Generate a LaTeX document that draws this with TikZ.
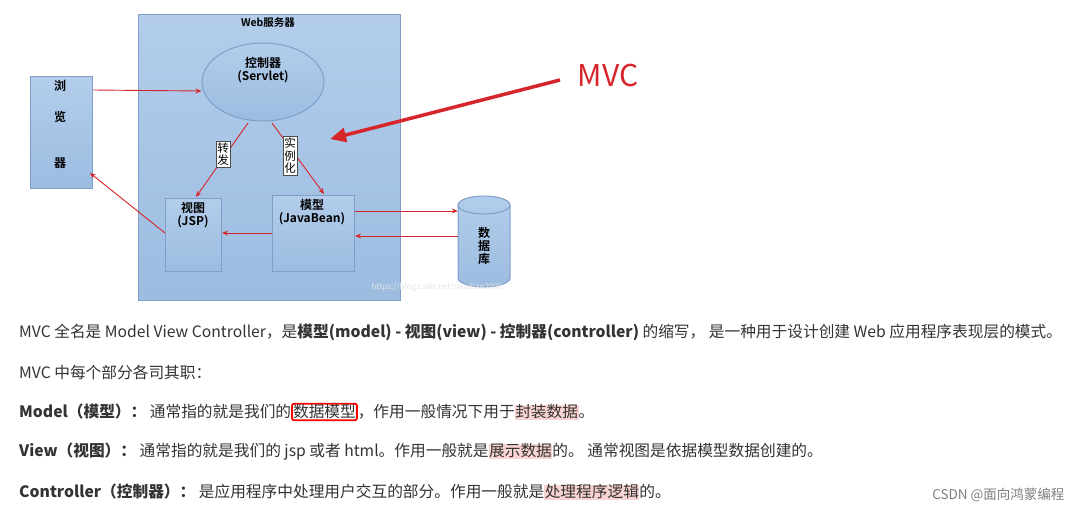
\documentclass[tikz,border=0pt]{standalone}
\usepackage{fontspec}
\setmainfont{Noto Sans CJK SC}
\newfontfamily\cjkb{Noto Sans CJK SC Bold}
\usetikzlibrary{shapes.geometric,arrows.meta}
\definecolor{bfill}{HTML}{B3CDEB}
\definecolor{bfill2}{HTML}{9CBCE0}
\definecolor{bline}{HTML}{7E9FC9}
\definecolor{arr}{HTML}{D7262B}
\definecolor{txt}{HTML}{333333}
\definecolor{hl}{HTML}{FAD4D2}
\tikzset{
 box/.style={draw=bline,line width=1pt,top color=bfill,bottom color=bfill2,inner sep=0},
 lbl/.style={font=\cjkb\fontsize{12}{13}\selectfont,text=black,align=center},
 conn/.style={draw=arr,line width=0.9pt,-{Stealth[length=6pt,width=5pt]}},
 tag/.style={draw=black!70,fill=white,line width=0.5pt,font=\fontsize{11.5}{12.5}\selectfont,align=center,inner sep=1.5pt},
 para/.style={anchor=west,text=txt,font=\fontsize{15.7}{17}\selectfont,inner sep=0},
 hlt/.style={fill=hl,inner sep=0.5pt,text depth=2pt,text height=12pt}
}
\begin{document}
\begin{tikzpicture}[x=1pt,y=-1pt]
\useasboundingbox[fill=white] (0,0) rectangle (1081,515);
% web server
\node[box,minimum width=262pt,minimum height=286pt,anchor=north west] (web) at (138,14) {};
\node[lbl,font=\cjkb\fontsize{10.5}{12}\selectfont] (webt) at (268,23) {Web服务器};
\node[box,minimum width=62pt,minimum height=112pt,anchor=north west] (br) at (30,76) {};
\node[lbl] (b1) at (60,86) {浏};
\node[lbl] (b2) at (60,117) {览};
\node[lbl] (b3) at (60,163) {器};
\node[box,ellipse,minimum width=122pt,minimum height=78pt] (ctl) at (263,82) {};
\node[lbl] (ctlt) at (263,70) {控制器\\(Servlet)};
\node[box,minimum width=56pt,minimum height=73pt,anchor=north west] (view) at (165,198) {};
\node[lbl] (viewt) at (193,215) {视图\\(JSP)};
\node[box,minimum width=82pt,minimum height=76pt,anchor=north west] (model) at (272,195) {};
\node[lbl] (modelt) at (312,212) {模型\\(JavaBean)};
% database cylinder
\path[draw=bline,line width=1pt,top color=bfill,bottom color=bfill2]
  (458,205) -- (458,278) arc[start angle=180,end angle=360,x radius=26,y radius=-9] -- (510,205)
  arc[start angle=0,end angle=180,x radius=26,y radius=-9] -- cycle;
\draw[bline,line width=1pt] (458,205) arc[start angle=180,end angle=360,x radius=26,y radius=-9];
\node[minimum width=52pt,minimum height=91pt,inner sep=0] (db) at (484,241) {};
\node[lbl] (dbt) at (484,246) {数\\据\\库};
% arrows
\draw[conn] (br.east|-0,90) -- (ctl.west|-0,91);
\coordinate (c1) at (248,123);
\coordinate (c2) at (272,123);
\draw[conn] (c1) -- (196,197) coordinate (v1);
\draw[conn] (c2) -- (324,194) coordinate (m1);
\node[tag] (zf) at (223,154) {转\\发};
\node[tag] (slh) at (290,156) {实\\例\\化};
\draw[conn] (model.west|-0,233) -- (view.east|-0,233);
\draw[conn] (view.west|-0,233) -- (90,173) coordinate (bb);
\draw[conn] (model.east|-0,211) -- (db.west|-0,211);
\draw[conn] (db.west|-0,236) -- (model.east|-0,236);
\node[text=white!80!gray,font=\fontsize{8}{9}\selectfont] (wm) at (437,287) {https://blog.csdn.net/swadian2008};
% big red arrow
\coordinate (ra) at (560,80);
\coordinate (rb) at (330,139);
\draw[arr,line width=3.5pt,-{Triangle[length=16pt,width=14pt]}] (ra) -- (rb);
\node[text=arr,font=\fontsize{30}{32}\selectfont] (mvc) at (608,75) {MVC};
% text
\node[para] (p1) at (19,332) {MVC 全名是 Model View Controller，是\textbf{模型(model) - 视图(view) - 控制器(controller)} 的缩写， 是一种用于设计创建 Web 应用程序表现层的模式。};
\node[para] (p2) at (19,372) {MVC 中每个部分各司其职：};
\node[para] (p3) at (19,412) {\textbf{Model（模型）：} 通常指的就是我们的\tikz[baseline]\node[anchor=base,inner sep=1pt,draw=red,line width=1.8pt,rounded corners=2pt] (nb) {数据模型};，作用一般情况下用于\tikz[baseline]\node[anchor=base,hlt] (h1) {封装数据};。};
\node[para] (p4) at (19,452) {\textbf{View（视图）：} 通常指的就是我们的 jsp 或者 html。作用一般就是\tikz[baseline]\node[anchor=base,hlt] (h2) {展示数据};的。 通常视图是依据模型数据创建的。};
\node[para] (p5) at (19,492) {\textbf{Controller（控制器）：} 是应用程序中处理用户交互的部分。作用一般就是\tikz[baseline]\node[anchor=base,hlt] (h3) {处理程序逻辑};的。};
\node[text=gray,font=\fontsize{13.5}{14}\selectfont,anchor=east] (csdn) at (1068,495) {CSDN @面向鸿蒙编程};
\end{tikzpicture}
\end{document}
